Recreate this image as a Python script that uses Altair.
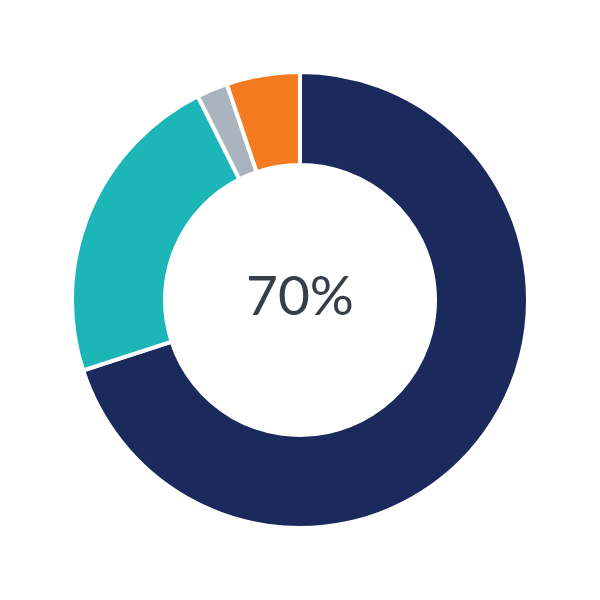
import altair as alt
import pandas as pd

categories = ["A", "B", "C", "D"]
values = [70, 22.6, 2.2, 5.2]
colors = ["#1b2a5c", "#1cb5b8", "#aab4c1", "#f47b20"]
center_label = ["70%"]

df = pd.DataFrame({"cat": categories, "value": values, "ord": list(range(len(categories)))})

arcs = alt.Chart(df).mark_arc(outerRadius=228, innerRadius=135, stroke="white", strokeWidth=4).encode(
    theta=alt.Theta("value:Q", stack=True),
    order=alt.Order("ord:Q"),
    color=alt.Color("cat:N", scale=alt.Scale(domain=categories, range=colors), legend=None),
)

text = alt.Chart(pd.DataFrame({"t": center_label})).mark_text(
    font="Lato", fontSize=55, fontWeight=400, color="#363e48", baseline="middle", align="center"
).encode(text="t:N", x=alt.value(292), y=alt.value(290))

chart = alt.layer(arcs, text).properties(
    width=584, height=584, autosize=alt.AutoSizeParams(type="none"), padding=0
).configure_view(stroke=None)

chart.save("out.html", embed_options={"renderer": "svg", "actions": False})
